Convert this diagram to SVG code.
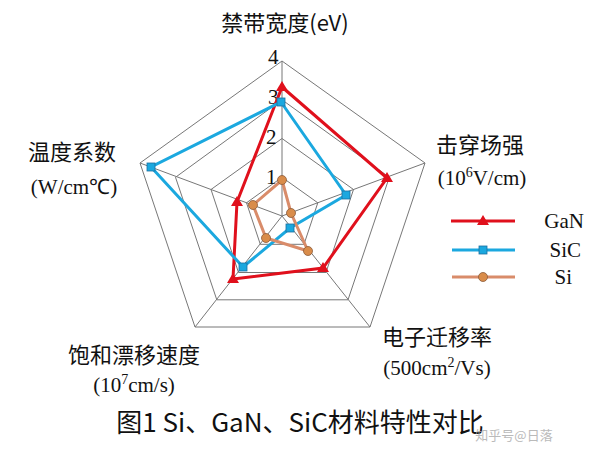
<svg xmlns="http://www.w3.org/2000/svg" width="600" height="463" viewBox="0 0 600 463">
<style>
.g{fill:none;stroke:#777;stroke-width:1}
.t{font-family:"Noto Sans CJK SC","Liberation Serif",serif;font-size:22px;fill:#111}
.n{font-family:"Liberation Serif",serif;font-size:21px;fill:#111}
.gan{fill:none;stroke:#e0101c;stroke-width:3}
.sic{fill:none;stroke:#1ba8df;stroke-width:3}
.si{fill:none;stroke:#d98c6a;stroke-width:3}
</style>
<rect width="600" height="463" fill="#fff"/>
<g id="grid">
<polygon class="g" points="282,61 425,163 370,327 195,327 140,163"/>
<polygon class="g" points="282,99.8 389.3,177.3 348,299.8 216.8,299.8 175.5,177.3"/>
<polygon class="g" points="282,138.5 353.5,189.5 326,272.5 238.5,272.5 211,189.5"/>
<polygon class="g" points="282,177.3 317.8,202.8 304,244.3 260.3,244.3 246.5,202.8"/>
<path class="g" d="M282,216L282,61M282,216L425,163M282,216L370,327M282,216L195,327M282,216L140,163"/>
</g>
<g id="ticks" class="n">
<text x="268" y="64">4</text><text x="268" y="104">3</text><text x="266" y="144">2</text><text x="266" y="184">1</text>
</g>
<g id="connectors">
<polygon class="gan" points="282,87 387,178 323,268 233,279 237,202"/>
<polygon class="sic" points="281,102 346,195 290,228 243,267 151,167"/>
<polygon class="si" points="282,180 291,213 308,251 266,238 253,205"/>
</g>
<g id="markers">
<g fill="#e0101c"><path d="M282,81l6,10h-12z"/><path d="M387,172l6,10h-12z"/><path d="M323,262l6,10h-12z"/><path d="M233,273l6,10h-12z"/><path d="M237,196l6,10h-12z"/></g>
<g fill="#1ba8df" stroke="#1a6fa0" stroke-width="0.8"><rect x="277" y="98" width="8" height="8"/><rect x="342" y="191" width="8" height="8"/><rect x="286" y="224" width="8" height="8"/><rect x="239" y="263" width="8" height="8"/><rect x="147" y="163" width="8" height="8"/></g>
<g fill="#d98c4a" stroke="#8a5a3a" stroke-width="0.8"><circle cx="282" cy="180" r="4.5"/><circle cx="291" cy="213" r="4.5"/><circle cx="308" cy="251" r="4.5"/><circle cx="266" cy="238" r="4.5"/><circle cx="253" cy="205" r="4.5"/></g>
</g>
<g id="labels">
<text class="t" x="285" y="31" text-anchor="middle">禁带宽度(eV)</text>
<text class="t" x="480" y="153" text-anchor="middle">击穿场强</text>
<text class="n" x="482" y="185" text-anchor="middle">(10<tspan font-size="14" dy="-8">6</tspan><tspan dy="8">V/cm)</tspan></text>
<text class="t" x="72" y="160" text-anchor="middle">温度系数</text>
<text class="n" x="74" y="194" text-anchor="middle">(W/cm℃)</text>
<text class="t" x="134" y="363" text-anchor="middle">饱和漂移速度</text>
<text class="n" x="134" y="392" text-anchor="middle">(10<tspan font-size="14" dy="-8">7</tspan><tspan dy="8">cm/s)</tspan></text>
<text class="t" x="437" y="345" text-anchor="middle">电子迁移率</text>
<text class="n" x="437" y="375" text-anchor="middle">(500cm<tspan font-size="14" dy="-8">2</tspan><tspan dy="8">/Vs)</tspan></text>
</g>
<g id="legend">
<line class="gan" x1="451" y1="221" x2="515" y2="221"/><path d="M483,215l6,10h-12z" fill="#e0101c"/>
<line class="sic" x1="452" y1="250" x2="515" y2="250"/><rect x="479" y="246" width="8" height="8" fill="#1ba8df" stroke="#1a6fa0" stroke-width="0.8"/>
<line class="si" x1="452" y1="277" x2="515" y2="277"/><circle cx="483" cy="277" r="4.5" fill="#d98c4a" stroke="#8a5a3a" stroke-width="0.8"/>
<text class="n" x="584" y="228" text-anchor="end">GaN</text>
<text class="n" x="581" y="257" text-anchor="end">SiC</text>
<text class="n" x="572" y="284" text-anchor="end">Si</text>
</g>
<text x="300" y="432" text-anchor="middle" font-family="Noto Sans CJK SC,sans-serif" font-size="26" fill="#111">图1 Si、GaN、SiC材料特性对比</text>
<text x="514" y="440" text-anchor="middle" font-family="Noto Sans CJK SC,sans-serif" font-size="13" fill="#aaa" opacity="0.8">知乎号@日落</text>
</svg>
